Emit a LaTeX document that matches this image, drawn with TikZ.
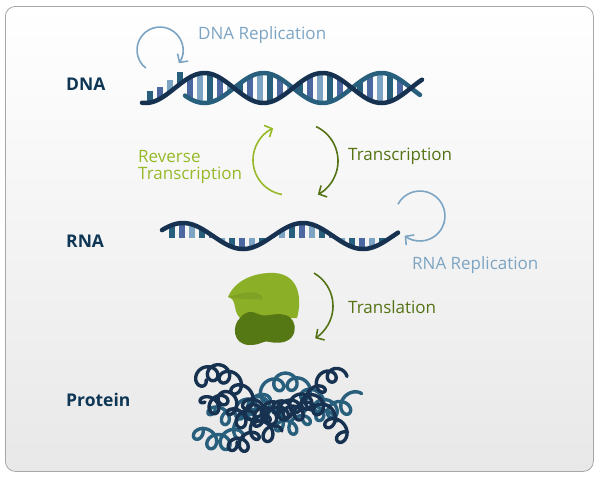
\documentclass[tikz,border=0pt]{standalone}
\usepackage{fontspec}
\setmainfont{Open Sans}
\usetikzlibrary{arrows.meta}
\definecolor{navy}{RGB}{15,55,85}
\definecolor{hnavy}{RGB}{22,50,80}
\definecolor{mblue}{RGB}{40,95,125}
\definecolor{lblue}{RGB}{125,165,195}
\definecolor{pblue}{RGB}{75,105,160}
\definecolor{dgreen}{RGB}{85,115,20}
\definecolor{lgreen}{RGB}{150,185,40}
\definecolor{rib1}{RGB}{140,175,40}
\definecolor{rib2}{RGB}{85,120,20}
\begin{document}
\begin{tikzpicture}[x=1pt,y=-1pt,
  lab/.style={font=\bfseries\fontsize{17.5}{20}\selectfont,text=navy,anchor=west,inner sep=0},
  txt/.style={font=\fontsize{17}{20}\selectfont,anchor=west,align=left,inner sep=0},
  cyc/.style={line width=1.6pt,-{Straight Barb[length=6pt,width=13pt]}}]
\useasboundingbox (0,0) rectangle (600,477);
\node[draw=gray!70,line width=0.8pt,rounded corners=10pt,minimum width=588pt,minimum height=465pt,top color=white,bottom color=black!9,anchor=north west,inner sep=0] (bg) at (5,6) {};
% labels
\node[lab] (dna) at (66,84) {DNA};
\node[lab] (rna) at (66,241) {RNA};
\node[lab] (prot) at (66,400) {Protein};
% DNA helix
\foreach \x [count=\i] in {150,160,170,180,190,200,210,220,230,240,250,260,270,280,290,300,310,320,330,340,350,360,370,380,390,400,410} {
  \pgfmathsetmacro{\a}{88-15*sin(360/118*(\x-175))}
  \pgfmathsetmacro{\b}{88+15*sin(360/118*(\x-175))}
  \pgfmathsetmacro{\lo}{\x<185 ? \a-12 : min(\a,\b)}
  \pgfmathsetmacro{\hi}{\x<185 ? \a : max(\a,\b)}
  \pgfmathtruncatemacro{\m}{mod(\i,3)}
  \ifnum\m=0 \def\cc{lblue}\else\ifnum\m=1 \def\cc{mblue}\else\def\cc{pblue}\fi\fi
  \fill[\cc] (\x-3.2,\lo) rectangle (\x+3.2,\hi);
}
\draw[mblue,line width=4.5pt,line cap=round] plot[domain=185:420,samples=120] (\x,{88+15*sin(360/118*(\x-175))});
\draw[hnavy,line width=4.5pt,line cap=round] plot[domain=142:422,samples=140] (\x,{88-15*sin(360/118*(\x-175))});
% RNA
\foreach \x [count=\i] in {172,182,192,202,212,222,232,242,252,262,272,282,292,302,312,322,332,342,352,362,372,382,392} {
  \pgfmathsetmacro{\a}{236-13*cos(3*(\x-183))}
  \pgfmathtruncatemacro{\m}{mod(\i,3)}
  \ifnum\m=0 \def\cc{lblue}\else\ifnum\m=1 \def\cc{mblue}\else\def\cc{pblue}\fi\fi
  \fill[\cc] (\x-3.2,{min(\a,238)}) rectangle (\x+3.2,{max(\a,238)});
}
\draw[hnavy,line width=4.5pt,line cap=round] plot[domain=162:398,samples=120] (\x,{236-13*cos(3*(\x-183))});
% DNA replication
\coordinate (c1) at (160,50);
\draw[cyc,lblue] (c1) ++(128:23) arc[start angle=128,end angle=395,radius=23];
\node[txt,text=lblue] (drt) at (198,35) {DNA Replication};
% transcription
\coordinate (c2) at (300,161);
\draw[cyc,dgreen] (c2) ++(-65:38) arc[start angle=-65,end angle=62,radius=38];
\node[txt,text=dgreen] (tt) at (348,156) {Transcription};
% reverse
\coordinate (c3) at (288,160);
\draw[cyc,lgreen] (c3) ++(100:35) arc[start angle=100,end angle=245,radius=35];
\node[txt,text=lgreen] (rt) at (138,167) {Reverse\\[-3pt]Transcription};
% RNA replication
\coordinate (c4) at (420,216);
\draw[cyc,lblue] (c4) ++(208:25) arc[start angle=208,end angle=488,radius=25];
\node[txt,text=lblue] (rr) at (412,265) {RNA Replication};
% translation
\coordinate (c5) at (295,306);
\draw[cyc,dgreen] (c5) ++(-60:38) arc[start angle=-60,end angle=58,radius=38];
\node[txt,text=dgreen] (tl) at (348,307) {Translation};
% ribosome
\fill[rib1] (228,297) .. controls (235,280) and (255,272) .. (275,273) .. controls (300,275) and (302,300) .. (297,318) -- (240,318) .. controls (232,310) and (238,300) .. cycle;
\fill[rib1!80!black,opacity=.4] (228,297) .. controls (245,292) and (255,290) .. (262,296) -- (262,300) .. controls (250,298) and (240,300) .. cycle;
\fill[rib2] (240,318) .. controls (232,325) and (232,345) .. (250,345) .. controls (262,345) and (262,340) .. (270,342) .. controls (300,348) and (300,318) .. (285,315) .. controls (275,312) and (265,318) .. (258,314) .. controls (250,310) and (245,312) .. cycle;
% protein
\begin{scope}[line width=3.4pt,line cap=round]
\draw[mblue] plot[domain=0:1,samples=320,smooth] ({195+160*\x+8*cos(\x*4300)},{428-45*\x+22*sin(\x*500)+8*sin(\x*4300)});
\draw[mblue] plot[domain=0:1,samples=250,smooth] ({210+120*\x+7*cos(\x*3200+40)},{405+20*\x+10*sin(\x*700)+7*sin(\x*3200+40)});
\draw[hnavy] plot[domain=0:1,samples=320,smooth] ({198+150*\x+8*cos(\x*4600)},{380+48*\x-14*sin(\x*600)+8*sin(\x*4600)});
\draw[hnavy] plot[domain=0:1,samples=280,smooth] ({230+110*\x+7*cos(\x*3600)},{442-62*\x+10*sin(\x*700)+7*sin(\x*3600)});
\draw[hnavy] plot[domain=0:1,samples=220,smooth] ({205+70*\x+7*cos(\x*2800+90)},{395+35*\x+8*sin(\x*900)+7*sin(\x*2800+90)});
\end{scope}
\end{tikzpicture}
\end{document}
